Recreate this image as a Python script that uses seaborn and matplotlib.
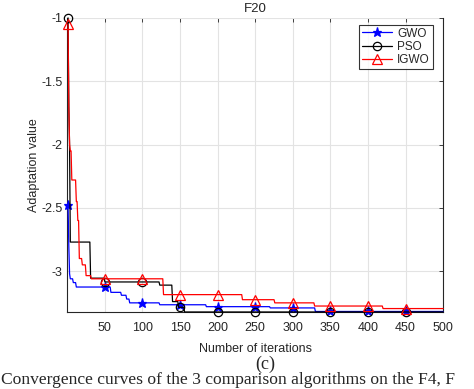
import numpy as np
import pandas as pd
import matplotlib
matplotlib.use("Agg")
import matplotlib.pyplot as plt
import seaborn as sns

# Step breakpoints: (iteration where value starts, value)
gwo_iter = [1, 2, 3, 4, 8, 12, 58, 72, 79, 83, 123, 185, 270, 330]
gwo_val = [-2.48, -2.80, -3.02, -3.06, -3.09, -3.125, -3.167, -3.19, -3.22, -3.25, -3.265, -3.28, -3.29, -3.318]

pso_iter = [1, 2, 3, 4, 31, 50, 123, 140, 148, 156]
pso_val = [-1.0, -1.70, -2.00, -2.77, -3.055, -3.085, -3.11, -3.24, -3.285, -3.322]

igwo_iter = [1, 2, 3, 4, 6, 12, 14, 16, 20, 25, 32, 128, 233, 276, 329, 420]
igwo_val = [-1.05, -1.70, -2.00, -2.05, -2.28, -2.45, -2.60, -2.90, -2.95, -3.035, -3.06, -3.185, -3.225, -3.25, -3.275, -3.295]

n_iter = 500
algos = ["GWO", "PSO", "IGWO"]
colors = {"GWO": "#0000ff", "PSO": "#000000", "IGWO": "#ff0000"}
markers = {"GWO": "*", "PSO": "o", "IGWO": "^"}
msizes = {"GWO": 6.5, "PSO": 6, "IGWO": 6.5}
xticks = [50, 100, 150, 200, 250, 300, 350, 400, 450, 500]
yticks = [-1, -1.5, -2, -2.5, -3]
ytick_labels = ["-1", "-1.5", "-2", "-2.5", "-3"]


def expand(iters, vals):
    it = np.arange(1, n_iter + 1)
    idx = np.searchsorted(np.array(iters), it, side="right") - 1
    return np.array(vals)[idx]


x = np.arange(1, n_iter + 1)
df = pd.DataFrame({
    "iteration": np.tile(x, 3),
    "value": np.concatenate([expand(gwo_iter, gwo_val), expand(pso_iter, pso_val), expand(igwo_iter, igwo_val)]),
    "algo": np.repeat(algos, n_iter),
})

sns.set_theme(style="white")
plt.rcParams["font.family"] = ["Liberation Sans", "DejaVu Sans"]

fig = plt.figure(figsize=(4.74, 3.89), dpi=100)
ax = fig.add_axes([0.142, 0.198, 0.793, 0.756])

mark_idx = [0] + list(range(49, 450, 50))
for a in algos:
    sub = df[df["algo"] == a]
    face = colors[a] if a == "GWO" else "none"
    sns.lineplot(data=sub, x="iteration", y="value", ax=ax, color=colors[a],
                 linewidth=0.9, marker=markers[a], markevery=mark_idx,
                 markersize=msizes[a], markerfacecolor=face,
                 markeredgecolor=colors[a], markeredgewidth=0.9,
                 label=a, clip_on=False, estimator=None, zorder=3)

ax.set_xlim(0, 500)
ax.set_ylim(-3.322, -1.0)
ax.set_xticks(xticks)
ax.set_yticks(yticks)
ax.set_yticklabels(ytick_labels)
ax.grid(True, color="#e3e3e3", linewidth=0.8)
ax.tick_params(direction="in", length=3, labelsize=9, colors="#262626",
               top=True, right=True, width=0.6)
ax.tick_params(axis="x", pad=7)
for s in ["left", "bottom", "right"]:
    ax.spines[s].set_color("#262626")
    ax.spines[s].set_linewidth(0.8)
ax.spines["top"].set_visible(False)

ax.set_xlabel("Number of iterations", fontsize=9, color="#262626", labelpad=7)
ax.set_ylabel("Adaptation value", fontsize=9, color="#262626", labelpad=1)
ax.set_title("F20", fontsize=9.5, color="#262626", pad=4)

leg = ax.legend(loc="upper right", bbox_to_anchor=(0.972, 0.977), borderaxespad=0,
                fontsize=8.5, frameon=True, fancybox=False, edgecolor="black",
                handlelength=2.6, borderpad=0.25, labelspacing=0.1, handletextpad=0.4)
leg.get_frame().set_linewidth(0.8)

fig.text(0.56, 0.064, "(c)", fontsize=13, family="Liberation Serif", ha="center", va="center")
fig.text(0.003, 0.022, "Convergence curves of the 3 comparison algorithms on the F4, F",
         fontsize=12.6, family="Liberation Serif", ha="left", va="center")

fig.savefig("out.png", dpi=100)
